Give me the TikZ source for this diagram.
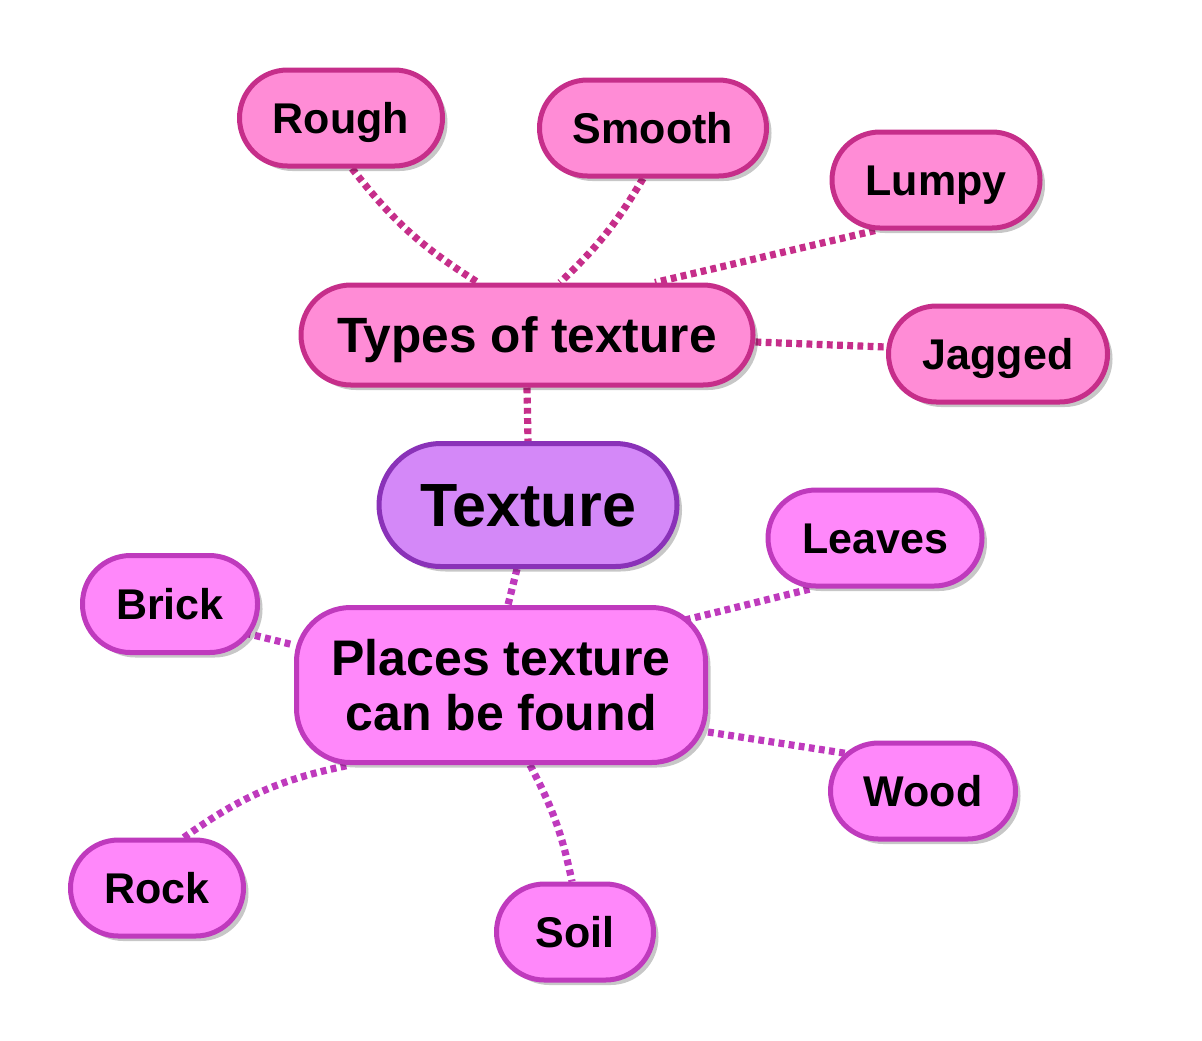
\documentclass[tikz,border=0pt]{standalone}
\usepackage{fontspec}
\setmainfont{Liberation Sans}
\usetikzlibrary{shadows,backgrounds}
\definecolor{typefill}{HTML}{FF8CD6}
\definecolor{typeline}{HTML}{C62E8A}
\definecolor{placefill}{HTML}{FF88FA}
\definecolor{placeline}{HTML}{BF3ABD}
\definecolor{mainfill}{HTML}{D488F8}
\definecolor{mainline}{HTML}{8A32B8}
\tikzset{
	bubble/.style={rectangle, rounded corners=24pt, line width=2.5pt, inner sep=0pt,
		minimum height=48pt, text height=15.4pt, text depth=0pt,
		font=\bfseries\fontsize{21.5}{26}\selectfont,
		drop shadow={shadow xshift=2.5pt, shadow yshift=-2.5pt, opacity=0.22, fill=black}},
	typebox/.style={bubble, draw=typeline, fill=typefill},
	placebox/.style={bubble, draw=placeline, fill=placefill},
	typelink/.style={draw=typeline, line width=3.6pt, dash pattern=on 2.9pt off 2.2pt},
	placelink/.style={typelink, draw=placeline},
}
\begin{document}
\begin{tikzpicture}[x=0.5pt,y=-0.5pt]
	\useasboundingbox (0,0) rectangle (1202,1040);
	\node[bubble, draw=mainline, fill=mainfill, minimum width=149pt, minimum height=61.5pt,
		rounded corners=31pt, text height=21.8pt,
		font=\bfseries\fontsize{30.5}{36}\selectfont] (texture) at (528,505) {Texture};
	\node[typebox, minimum width=226pt, minimum height=50pt, rounded corners=25pt,
		text height=17.8pt, font=\bfseries\fontsize{24.8}{30}\selectfont] (types) at (527,335) {Types of texture};
	\node[typebox, minimum width=101.5pt] (rough) at (341,118) {Rough};
	\node[typebox, minimum width=113.5pt] (smooth) at (653,128) {Smooth};
	\node[typebox, minimum width=104pt] (lumpy) at (936,180) {Lumpy};
	\node[typebox, minimum width=109.5pt] (jagged) at (998,354) {Jagged};
	\node[placebox, minimum width=204.5pt, minimum height=77.5pt, rounded corners=27pt,
		text height=, text depth=, align=center,
		font=\bfseries\fontsize{25}{27.5}\selectfont] (places) at (501,685) {Places texture\\can be found};
	\node[placebox, minimum width=107pt] (leaves) at (875,538) {Leaves};
	\node[placebox, minimum width=87.5pt, minimum height=48.5pt] (brick) at (170,604) {Brick};
	\node[placebox, minimum width=92.5pt] (wood) at (923,791) {Wood};
	\node[placebox, minimum width=86.5pt] (rock) at (157,888) {Rock};
	\node[placebox, minimum width=78.5pt] (soil) at (575,932) {Soil};
	\begin{scope}[on background layer]
		\draw[typelink] ([xshift=5.5pt]rough.south) to[bend right=10] ([xshift=-24.5pt]types.north);
		\draw[typelink] ([xshift=-5pt]smooth.south) to[bend left=8] ([xshift=16.5pt]types.north);
		\draw[typelink] ([xshift=-30.5pt]lumpy.south) -- ([xshift=64pt]types.north);
		\draw[typelink] ([yshift=-3.5pt]types.east) -- ([yshift=3.5pt]jagged.west);
		\draw[typelink] (types.south) -- (texture.north);
		\draw[placelink] ([xshift=-5.5pt]texture.south) -- ([xshift=3.5pt]places.north);
		\draw[placelink] ([xshift=37.5pt,yshift=-14.5pt]brick.center) -- ([yshift=20pt]places.west);
		\draw[placelink] ([xshift=-11.5pt,yshift=32.5pt]places.east) -- ([xshift=-31.5pt]leaves.south);
		\draw[placelink] ([yshift=-23.5pt]places.east) -- ([xshift=-36.5pt,yshift=18.5pt]wood.center);
		\draw[placelink] (rock.62) to[bend left=12] ([xshift=-75.5pt]places.south);
		\draw[placelink] ([xshift=14.5pt]places.south) to[bend left=8] ([xshift=-1.5pt]soil.north);
	\end{scope}
\end{tikzpicture}
\end{document}
